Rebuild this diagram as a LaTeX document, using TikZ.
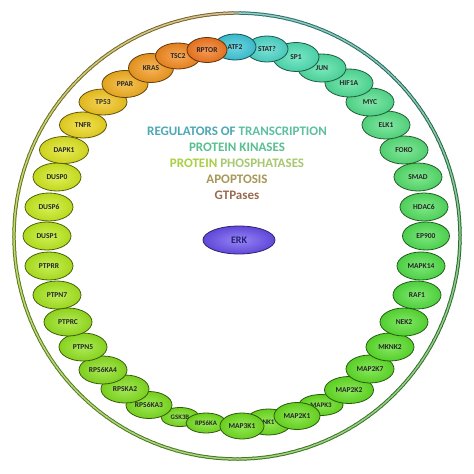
\documentclass[tikz,border=0pt]{standalone}
\usepackage{fontspec}
\setmainfont{Carlito}
\usetikzlibrary{shapes.geometric}

\definecolor{rR}{HTML}{40A848}
\definecolor{rRT}{HTML}{38A088}
\definecolor{rTa}{HTML}{48B0A8}
\definecolor{rTb}{HTML}{C09850}
\definecolor{rLT}{HTML}{B0A830}
\definecolor{rL}{HTML}{98C020}
\definecolor{rB}{HTML}{68B830}

\definecolor{tReg}{HTML}{4CA8B4}
\definecolor{tTrans}{HTML}{5CC0A0}
\definecolor{tKin}{HTML}{58C090}
\definecolor{tProt}{HTML}{A8D040}
\definecolor{tPhos}{HTML}{A8C870}
\definecolor{tApo}{HTML}{A89858}
\definecolor{tGtp}{HTML}{9A6A50}
\definecolor{erkc}{HTML}{6A50F0}
\definecolor{erkt}{HTML}{202070}

\newcommand{\ringpass}[2]{%
  \foreach \a/\b/\ca/\cb in {-90/0/rB/rR, 0/45/rR/rRT, 45/89/rRT/rTa, 89/91/rTa/rTb, 91/135/rTb/rLT, 135/180/rLT/rL, 180/270/rL/rB}{
    \pgfmathsetmacro\nn{int(max(1,round((\b-\a)/2)))}
    \foreach \i in {1,...,\nn}{
      \pgfmathsetmacro\s{\a+(\i-1)*(\b-\a)/\nn}
      \pgfmathsetmacro\e{\a+\i*(\b-\a)/\nn+0.4}
      \pgfmathsetmacro\p{100*(\i-0.5)/\nn}
      \colorlet{rc}{\cb!\p!\ca}
      \draw[line width=#1, color=rc!#2] (\s:223) arc[start angle=\s, end angle=\e, radius=223];
    }
  }%
}

\tikzset{
  gene/.style={ellipse, inner sep=0pt, line width=0.8pt,
    font=\fontsize{7.5}{8}\selectfont\bfseries, text=black!85},
  ctext/.style={font=\fontsize{13}{15}\selectfont\bfseries, inner sep=0pt},
}

\begin{document}
\begin{tikzpicture}[x=1pt, y=-1pt]
\useasboundingbox (0,0) rectangle (474,474);
\fill[white] (0,0) rectangle (474,474);

% outer ring
\begin{scope}[shift={(237,236)}, yscale=-1]
  \ringpass{3.4pt}{65!black}
  \ringpass{1.4pt}{60!white}
\end{scope}

% genes
\foreach \nm/\lab/\x/\y/\w/\h/\col/\fs in {
  gsk/GSK3B/180/417/38/19/7AE020/6.8,
  rps6ka/RPS6KA/206/423/40/20/76E020/6.8,
  mapkthree/MAPK3/321/405/44/21/68E020/7,
  nk/NK1/268.5/422/46/26/70E020/7,
  maptwoone/MAP2K1/297/416/46/27/6CE020/7.5,
  mapthree/MAP3K1/242/426/44/26/72E020/7.5,
  maptwotwo/MAP2K2/349/390/49/27/64E024/7.5,
  maptwoseven/MAP2K7/370/369/48/28/60E028/7.5,
  mknk/MKNK2/390/347/48/28/5CE02C/7.5,
  nek/NEK2/404/322/48/28/58E034/7.5,
  raf/RAF1/417/295/48/28/54E040/7.5,
  mapkff/MAPK14/421/266/48/28/52E04A/7.5,
  ep/EP900/426/236/47/28/52E054/7.5,
  hdac/HDAC6/424/207/48/28/54E060/7.5,
  smad/SMAD/418/177/48/28/56E06C/7.5,
  foko/FOKO/404/150/48/28/58E078/7.5,
  elk/ELK1/386/125/48/28/58E084/7.5,
  myc/MYC/370/102/48/28/55E08E/7.5,
  hif/HIF1A/349/83/48/28/52E098/7.5,
  jun/JUN/322/68/48/28/50E0A4/7.5,
  spone/SP1/296/57/46/29/50E0B4/7.5,
  stat/STAT?/267/49/42/26/4ED8C8/7.5,
  atf/ATF2/235/47/42/26/3FC8D8/7.5,
  rpsthree/RPS6KA3/149/405/46/27/7EE020/7.5,
  rpstwo/RPSKA2/125/389/48/28/84E020/7.5,
  rpsfour/RPS6KA4/103/370/48/28/8AE020/7.5,
  ptpnfive/PTPN5/83/347/48/28/92E420/7.5,
  ptprc/PTPRC/68/322/48/28/9AE420/7.5,
  ptpnseven/PTPN7/57/295/48/28/A8E820/7.5,
  ptprr/PTPRR/49/266/48/28/B4EA20/7.5,
  duspone/DUSP1/47/236/48/28/BEEC20/7.5,
  duspsix/DUSP6/49/207/48/28/C8EC20/7.5,
  duspzero/DUSP0/57/177/48/28/D2EA20/7.5,
  dapk/DAPK1/64/150/49/27/DEE420/7.5,
  tnfr/TNFR/83/125/47/26/EED820/7.5,
  tpft/TP53/103/102/48/26/F2C620/7.5,
  ppar/PPAR/125/84/46/27/F4B020/7.5,
  kras/KRAS/151/68/45/29/F49C20/7.5,
  tsc/TSC2/178/56/45/26/F48A20/7.5,
  rptor/RPTOR/207/50/40/25/F47A20/7.5}{
  \definecolor{cc}{HTML}{\col}
  \node[gene, minimum width=\w pt, minimum height=\h pt, font=\fontsize{\fs}{8}\selectfont\bfseries,
        inner color=cc!75!white, outer color=cc!92!black, draw=cc!40!black] (\nm) at (\x,\y) {\lab};
}

% central legend
\node[ctext] (l1) at (237,131) {\textcolor{tReg}{REGULATORS OF} \textcolor{tTrans}{TRANSCRIPTION}};
\node[ctext, text=tKin] (l2) at (237,147) {PROTEIN KINASES};
\node[ctext] (l3) at (237,163) {\textcolor{tProt}{PROTEIN} \textcolor{tPhos}{PHOSPHATASES}};
\node[ctext, text=tApo] (l4) at (237,179) {APOPTOSIS};
\node[ctext, text=tGtp] (l5) at (237,195) {GTPases};

% ERK
\node[ellipse, minimum width=72pt, minimum height=28pt, inner sep=0pt, line width=0.8pt,
      inner color=erkc!70!white, outer color=erkc!90!black, draw=erkc!45!black,
      font=\fontsize{10}{11}\selectfont\bfseries, text=erkt] (erk) at (239,240) {ERK};
\end{tikzpicture}
\end{document}
